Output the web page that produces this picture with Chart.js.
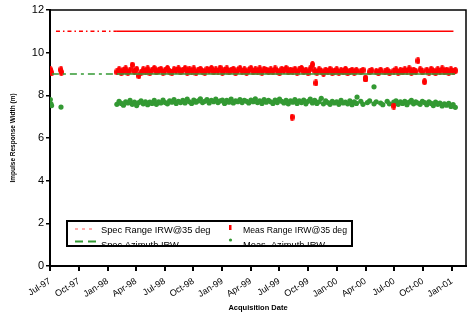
<!DOCTYPE html>
<html>
<head>
<meta charset="utf-8">
<script src="https://cdn.jsdelivr.net/npm/chart.js@4.4.1/dist/chart.umd.min.js"></script>
<style>
  html, body { margin: 0; padding: 0; background: #fff; }
  #wrap { width: 474px; height: 323px; }
</style>
</head>
<body>
<div id="wrap"><canvas id="irw" width="474" height="323"></canvas></div>
<script>
// x values are days since 1-Jul-1997
const quarterDays = [0, 92, 184, 274, 365, 457, 549, 639, 730, 822, 914, 1005, 1096, 1188, 1280];
const quarterLabels = ["Jul-97", "Oct-97", "Jan-98", "Apr-98", "Jul-98", "Oct-98", "Jan-99", "Apr-99",
  "Jul-99", "Oct-99", "Jan-00", "Apr-00", "Jul-00", "Oct-00", "Jan-01"];
const yTicks = [0, 2, 4, 6, 8, 10, 12];

// spec lines
const specRangeDays = [19, 213, 1285];
const specRangeVals = [11, 11, 11];
const specAzDays = [6, 213, 1290];
const specAzVals = [9, 9, 9];

// early measurements (1997)
const earlyDays = [1, 3, 5, 35, 36];
const rangeEarly = [9.2, 9.12, 9.06, 9.2, 9.08];
const azEarly = [7.8, 7.6, 7.52, 7.45, null];

// main measurement run
const measDays = [
  213, 220, 227, 234, 241, 248, 255, 262, 269, 276,
  283, 290, 297, 304, 311, 318, 325, 332, 339, 346,
  353, 360, 367, 374, 381, 388, 395, 402, 409, 416,
  423, 430, 437, 444, 451, 458, 465, 472, 479, 486,
  493, 500, 507, 514, 521, 528, 535, 542, 549, 556,
  563, 570, 577, 584, 591, 598, 605, 612, 619, 626,
  633, 640, 647, 654, 661, 668, 675, 682, 689, 696,
  703, 710, 717, 724, 731, 738, 745, 752, 759, 766,
  773, 780, 787, 794, 801, 808, 815, 822, 829, 836,
  843, 850, 857, 864, 871, 878, 885, 892, 899, 906,
  913, 920, 927, 934, 941, 948, 955, 962, 969, 976,
  983, 990, 997, 1004, 1011, 1018, 1025, 1032, 1039, 1046,
  1053, 1060, 1067, 1074, 1081, 1088, 1095, 1102, 1109, 1116,
  1123, 1130, 1137, 1144, 1151, 1158, 1165, 1172, 1179, 1186,
  1193, 1200, 1207, 1214, 1221, 1228, 1235, 1242, 1249, 1256,
  1263, 1270, 1277, 1284, 1291
];
const rangeMeas = [
  9.10, 9.20, 9.06, 9.16, 9.24, 9.08, 9.18, 9.42, 9.12, 9.22,
  8.92, 9.08, 9.20, 9.14, 9.24, 9.06, 9.18, 9.26, 9.10, 9.16,
  9.22, 9.08, 9.18, 9.26, 9.12, 9.06, 9.20, 9.16, 9.24, 9.10,
  9.18, 9.26, 9.08, 9.20, 9.14, 9.24, 9.06, 9.18, 9.22, 9.12,
  9.08, 9.22, 9.16, 9.26, 9.10, 9.20, 9.14, 9.28, 9.08, 9.18,
  9.24, 9.10, 9.18, 9.22, 9.06, 9.16, 9.26, 9.12, 9.20, 9.08,
  9.16, 9.26, 9.10, 9.20, 9.14, 9.24, 9.08, 9.22, 9.18, 9.12,
  9.20, 9.10, 9.24, 9.14, 9.06, 9.22, 9.16, 9.26, 9.10, 9.18,
  9.14, 9.22, 9.08, 9.20, 9.26, 9.12, 9.18, 9.06, 9.24, 9.44,
  9.16, 9.08, 9.20, 9.12, 9.04, 9.18, 9.10, 9.22, 9.06, 9.14,
  9.20, 9.08, 9.16, 9.10, 9.22, 9.06, 9.14, 9.18, 9.08, 9.16,
  null, 9.12, 9.18, 8.80, null, 9.10, 9.16, null, 9.12, 9.06,
  9.18, null, 9.10, 9.16, 9.06, null, 9.14, 9.20, 9.08, 9.16,
  9.10, 9.20, 9.14, 9.24, 9.08, 9.18, 9.12, 9.62, 9.20, 9.10,
  8.64, 9.18, 9.08, 9.22, 9.14, 9.06, 9.20, 9.12, 9.24, 9.10,
  9.18, 9.08, 9.20, 9.12, 9.16
];
const azMeas = [
  7.58, 7.72, 7.62, 7.54, 7.70, 7.64, 7.76, 7.58, 7.68, 7.52,
  7.66, 7.74, 7.60, 7.70, 7.56, 7.68, 7.62, 7.76, 7.58, 7.70,
  7.64, 7.78, 7.66, 7.60, 7.74, 7.68, 7.80, 7.62, 7.72, 7.66,
  7.76, 7.64, 7.82, 7.70, 7.62, 7.78, 7.68, 7.74, 7.84, 7.66,
  7.72, 7.80, 7.64, 7.76, 7.70, 7.82, 7.66, 7.74, 7.78, 7.62,
  7.76, 7.68, 7.82, 7.64, 7.74, 7.70, 7.80, 7.66, 7.76, 7.72,
  7.64, 7.78, 7.70, 7.84, 7.66, 7.74, 7.62, 7.80, 7.68, 7.76,
  7.70, 7.62, 7.78, 7.66, 7.82, 7.72, 7.64, 7.76, 7.60, 7.74,
  7.68, 7.80, 7.62, 7.74, 7.66, 7.78, 7.60, 7.72, 7.82, 7.64,
  7.76, 7.62, 7.70, 7.86, 7.60, 7.74, 7.66, 7.58, 7.72, 7.64,
  7.70, 7.58, 7.76, 7.64, 7.68, 7.60, 7.74, 7.56, 7.70, 7.62,
  null, 7.72, 7.58, null, 7.66, 7.74, null, 7.60, 7.70, null,
  7.64, 7.56, null, 7.72, 7.60, null, 7.68, 7.74, 7.58, 7.70,
  7.62, 7.72, 7.56, 7.68, 7.76, 7.60, 7.70, 7.64, 7.58, 7.72,
  7.66, 7.56, 7.70, 7.62, 7.52, 7.68, 7.58, 7.64, 7.50, 7.60,
  7.54, 7.62, 7.48, 7.56, 7.44
];

// odd readings
const rangeOddDays = [771, 847, 1006, 1095];
const rangeOddVals = [6.98, 8.58, 8.77, 7.5];
const azOddDays = [978, 1032];
const azOddVals = [7.92, 8.4];

const RED = "#ff0000";
const GREEN = "#339933";
const FONT = "'Liberation Sans', Arial, sans-serif";

function pts(days, vals) {
  return days.map((d, i) => ({ x: d, y: vals[i] })).filter(p => p.y !== null);
}

// small upright red blob used as the range marker
const redMark = document.createElement("canvas");
redMark.width = 5;
redMark.height = 7;
const rm = redMark.getContext("2d");
rm.fillStyle = RED;
rm.beginPath();
rm.ellipse(2.5, 3.5, 2.5, 3.5, 0, 0, Math.PI * 2);
rm.fill();
rm.fillRect(1, 1, 3, 5);

const frame = {
  id: "frame",
  beforeDatasetsDraw(chart) {
    const a = chart.chartArea, c = chart.ctx;
    c.save();
    c.strokeStyle = "#000";
    c.lineWidth = 1.5;
    c.strokeRect(a.left, a.top, a.right - a.left, a.bottom - a.top);
    c.restore();
  }
};

// legend box drawn inside the plot like the original
const boxLegend = {
  id: "boxLegend",
  afterDatasetsDraw(chart) {
    const c = chart.ctx;
    const ds = chart.data.datasets;
    const L = 67, T = 221, W = 285, H = 25;
    c.save();
    c.fillStyle = "#fff";
    c.fillRect(L, T, W, H);
    c.beginPath();
    c.rect(L, T, W, H);
    c.clip();
    c.font = "9.3px " + FONT;
    c.fillStyle = "#000";
    c.textBaseline = "middle";
    // row 1
    c.strokeStyle = "rgba(255,60,60,0.55)";
    c.lineWidth = 1.5;
    c.setLineDash([3, 4]);
    c.beginPath(); c.moveTo(75, 229); c.lineTo(96, 229); c.stroke();
    c.fillText(ds[0].label, 101, 230, 110);
    c.fillStyle = RED;
    c.fillRect(229, 225, 2.5, 5);
    c.fillStyle = "#000";
    c.fillText(ds[2].label, 243, 230, 104);
    // row 2
    c.strokeStyle = GREEN;
    c.lineWidth = 2;
    c.setLineDash([8, 5]);
    c.beginPath(); c.moveTo(75, 241.5); c.lineTo(96, 241.5); c.stroke();
    c.setLineDash([]);
    c.fillText(ds[1].label, 101, 245);
    c.fillStyle = GREEN;
    c.beginPath(); c.arc(230.5, 240, 1.6, 0, Math.PI * 2); c.fill();
    c.fillStyle = "#000";
    c.fillText(ds[3].label, 243, 245);
    c.restore();
    c.save();
    c.strokeStyle = "#000";
    c.lineWidth = 2;
    c.strokeRect(L, T, W, H);
    c.restore();
  }
};

new Chart(document.getElementById("irw").getContext("2d"), {
  type: "scatter",
  data: {
    datasets: [
      {
        label: "Spec Range IRW@35 deg",
        data: pts(specRangeDays, specRangeVals),
        showLine: true,
        borderColor: RED,
        borderWidth: 1.5,
        pointRadius: 0,
        segment: { borderDash: ctx => ctx.p0.parsed.x < 200 ? [4, 3, 1.5, 3] : [] }
      },
      {
        label: "Spec Azimuth IRW",
        data: pts(specAzDays, specAzVals),
        showLine: true,
        borderColor: GREEN,
        borderWidth: 1.5,
        pointRadius: 0,
        segment: { borderDash: ctx => ctx.p0.parsed.x < 200 ? [7, 4, 3, 4] : [] }
      },
      {
        label: "Meas Range IRW@35 deg",
        data: pts(earlyDays, rangeEarly).concat(pts(measDays, rangeMeas), pts(rangeOddDays, rangeOddVals)),
        pointStyle: redMark,
        pointRadius: 3,
        showLine: false
      },
      {
        label: "Meas. Azimuth IRW",
        data: pts(earlyDays, azEarly).concat(pts(measDays, azMeas), pts(azOddDays, azOddVals)),
        backgroundColor: GREEN,
        pointRadius: 2.6,
        pointBorderWidth: 0,
        showLine: false
      }
    ]
  },
  options: {
    responsive: false,
    animation: false,
    layout: { padding: { left: 0, top: 10, right: 8, bottom: 0 } },
    plugins: {
      legend: { display: false },
      tooltip: { enabled: false }
    },
    scales: {
      x: {
        type: "linear",
        min: 0,
        max: 1325,
        afterBuildTicks: s => { s.ticks = quarterDays.map(v => ({ value: v })); },
        afterFit: s => { s.height = 57; },
        ticks: {
          autoSkip: false,
          maxRotation: 32,
          minRotation: 32,
          padding: 5,
          color: "#000",
          font: { family: FONT, size: 9 },
          callback: v => quarterLabels[quarterDays.indexOf(v)]
        },
        grid: { drawOnChartArea: false, color: "#000", lineWidth: 2, tickLength: 5 },
        border: { color: "#000", width: 2 },
        title: {
          display: true,
          text: "Acquisition Date",
          color: "#000",
          font: { family: FONT, size: 7.5, weight: "bold" },
          padding: { top: 0, bottom: 11 }
        }
      },
      y: {
        min: 0,
        max: 12,
        afterBuildTicks: s => { s.ticks = yTicks.map(v => ({ value: v })); },
        afterFit: s => { s.width = 50; },
        ticks: {
          padding: 2,
          color: "#000",
          font: { family: FONT, size: 11 }
        },
        grid: { drawOnChartArea: false, color: "#000", lineWidth: 1.5, tickLength: 4 },
        border: { color: "#000", width: 2 },
        title: {
          display: true,
          text: "Impulse Response Width (m)",
          color: "#000",
          font: { family: FONT, size: 6.5, weight: "bold" },
          padding: { top: 9, bottom: 0 }
        }
      }
    }
  },
  plugins: [frame, boxLegend]
});
</script>
</body>
</html>
